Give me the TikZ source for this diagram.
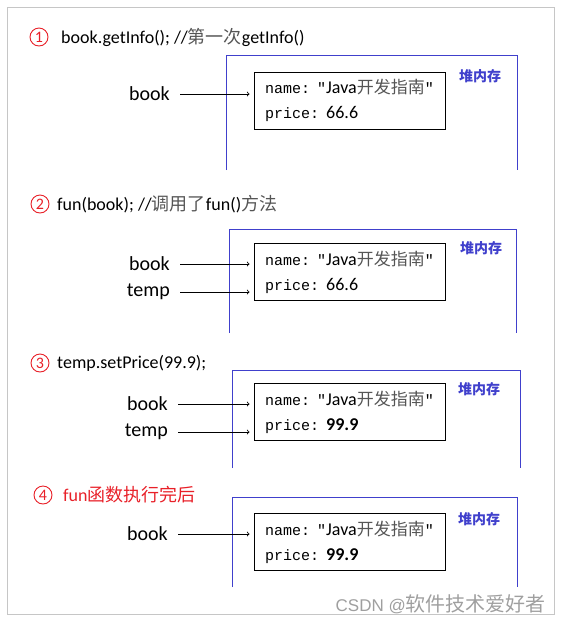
\documentclass[tikz,border=0pt]{standalone}
\usepackage{fontspec}
\setmainfont{Carlito}
\setmonofont{Liberation Mono}
\newfontfamily\cjk{Noto Sans CJK SC}
\newfontfamily\wmfont{Liberation Sans}
\usetikzlibrary{positioning}

\definecolor{heapblue}{RGB}{64,64,204}
\definecolor{numred}{RGB}{232,32,40}
\definecolor{cjkgray}{RGB}{85,85,85}

\newcommand\zh[1]{{\cjk\color{cjkgray}#1}}
\newcommand\objtext[1]{{\ttfamily name:\hspace{-2pt} "}{\fontsize{18}{25}\selectfont Java}{\cjk\color{cjkgray}\fontsize{17}{25}\selectfont 开发指南}{\ttfamily "}\\{\ttfamily price:\hspace{-2pt} }{\fontsize{18}{25}\selectfont #1}}

\begin{document}
\begin{tikzpicture}[x=1pt,y=-1pt,
	num/.style={circle,draw=numred,text=numred,line width=0.9pt,minimum size=18pt,inner sep=0pt,font=\fontsize{16}{16}\selectfont},
	head/.style={anchor=west,inner sep=0pt,font=\fontsize{18}{20}\selectfont},
	var/.style={anchor=east,inner sep=0pt,font=\fontsize{20}{22}\selectfont},
	obj/.style={draw,line width=1pt,minimum width=191pt,minimum height=57pt,align=left,inner sep=0pt,font=\fontsize{15}{25}\selectfont},
	heap/.style={draw=heapblue,line width=0.9pt},
	heaplabel/.style={text=heapblue,inner sep=0pt,font=\cjk\bfseries\fontsize{14}{14}\selectfont},
	ptr/.style={->,line width=0.8pt,shorten <=10pt,shorten >=4pt}]
	\useasboundingbox (0,0) rectangle (562,625);
	\draw[gray!45,line width=0.8pt] (7,7) rectangle (554,614);
	
	% step 1
	\node[num] (n1) at (39,37) {1};
	\node[head] (head1) at (61,37) {book.getInfo(); //\zh{第一次}getInfo()};
	\draw[heap] (226,170) |- (517,55) -- (517,170);
	\node[heaplabel] (heap1) at (480,76) {堆内存};
	\node[obj] (obj1) at (349.5,100.5) {\objtext{66.6}};
	\node[var] (book1) at (170,94) {book};
	\draw[ptr] (book1.east) -- (book1.east -| obj1.west);
	
	% step 2
	\node[num] (n2) at (40,204) {2};
	\node[head] (head2) at (57,204) {fun(book); //\zh{调用了}fun()\zh{方法}};
	\draw[heap] (229,333) |- (516,229) -- (516,333);
	\node[heaplabel] (heap2) at (481,248) {堆内存};
	\node[obj] (obj2) at (349.5,272) {\objtext{66.6}};
	\node[var] (book2) at (170,264) {book};
	\node[var] (temp2) at (170,292) {temp};
	\draw[ptr] (book2.east) -- (book2.east -| obj2.west);
	\draw[ptr] (temp2.east) -- (temp2.east -| obj2.west);
	
	% step 3
	\node[num] (n3) at (40,363) {3};
	\node[head] (head3) at (57,363) {temp.setPrice(99.9);};
	\draw[heap] (232,468) |- (520,370) -- (520,468);
	\node[heaplabel] (heap3) at (479,389) {堆内存};
	\node[obj] (obj3) at (349.5,412) {\objtext{\bfseries 99.9}};
	\node[var] (book3) at (168,404) {book};
	\node[var] (temp3) at (168,432) {temp};
	\draw[ptr] (book3.east) -- (book3.east -| obj3.west);
	\draw[ptr] (temp3.east) -- (temp3.east -| obj3.west);
	
	% step 4
	\node[num] (n4) at (43,495) {4};
	\node[head,text=numred] (head4) at (63,495) {fun{\cjk 函数执行完后}};
	\draw[heap] (232,587) |- (517,497) -- (517,587);
	\node[heaplabel] (heap4) at (479,519) {堆内存};
	\node[obj] (obj4) at (349.5,542) {\objtext{\bfseries 99.9}};
	\node[var] (book4) at (168,534) {book};
	\draw[ptr] (book4.east) -- (book4.east -| obj4.west);
	
	\node[anchor=east,inner sep=0pt,text=gray!75,font=\wmfont\fontsize{17}{20}\selectfont] (mark) at (546,604) {CSDN @{\cjk\fontsize{20}{20}\selectfont 软件技术爱好者}};
\end{tikzpicture}
\end{document}
